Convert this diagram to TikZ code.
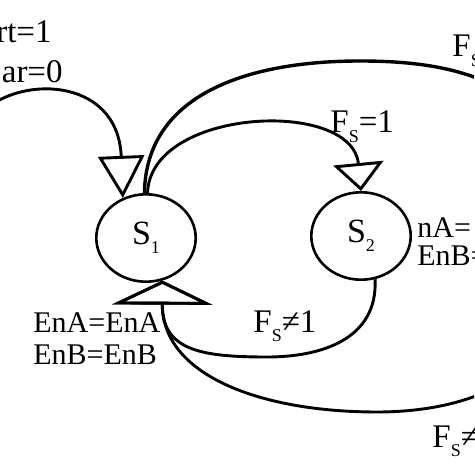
\documentclass[tikz,border=0pt]{standalone}
\usepackage{fontspec}
\setmainfont{Liberation Serif}
\usetikzlibrary{shapes.geometric,arrows.meta}
\newcommand{\lowsub}[1]{\raisebox{-0.6ex}{\fontsize{9}{9}\selectfont #1}}

\begin{document}
\begin{tikzpicture}[x=0.5pt,y=-0.5pt,
    state/.style={draw,ellipse,line width=1.3pt,minimum width=49.7pt,minimum height=43.7pt,inner sep=0pt,font=\fontsize{17}{17}\selectfont},
    edge/.style={line width=1.45pt},
    bigtip/.style={-{Triangle[open,length=12pt,width=50pt]}},
    lbl/.style={inner sep=0pt,font=\fontsize{15}{15}\selectfont},
    flbl/.style={inner sep=0pt,font=\fontsize{16.5}{16.5}\selectfont}]
    \useasboundingbox (0,0) rectangle (474,474);
    \clip (0,0) rectangle (474,474);

    % states
    \node[state] (S1) at (146,238) {S\lowsub{1}};
    \node[state] (S2) at (361,236) {S\lowsub{2}};
    \coordinate (init) at (-20,115);
    \coordinate (S3in) at (560,150);
    \coordinate (S3out) at (560,300);

    % transitions
    \draw[edge,-{Triangle[open,length=21pt,width=23pt]}] (init) .. controls (15,75) and (118,75) .. (S1.120);
    \draw[edge,-{Triangle[open,length=14pt,width=25pt]}] (S1.88) .. controls (150,108) and (352,98) .. (S2.north);
    \draw[edge,line width=1.7pt] (S1.92) .. controls (146,93) and (250,61) .. (360,61) .. controls (440,61) and (520,75) .. (S3in);
    \draw[edge,bigtip] (S2.-72) .. controls (378,340) and (320,357) .. (267,357) .. controls (200,357) and (162,350) .. (S1.-69);
    \draw[edge,bigtip] (S3out) .. controls (545,390) and (450,412) .. (377,412) .. controls (260,412) and (162,375) .. (S1.-69);

    % labels
    \node[flbl,anchor=base east] (start) at (52,43) {rt=1};
    \node[flbl,anchor=base east] (clear) at (63,83) {ar=0};
    \node[flbl,anchor=base west] (fs1) at (330,133) {F\lowsub{S}=1};
    \node[flbl,anchor=base west] (fs2) at (253,332) {F\lowsub{S}≠1};
    \node[flbl,anchor=base west] (fs3) at (452,57) {F\lowsub{S}};
    \node[flbl,anchor=base west] (fs4) at (432,447) {F\lowsub{S}≠};
    \node[lbl,anchor=base west] (enA1) at (33,332) {EnA=EnA};
    \node[lbl,anchor=base west] (enB1) at (33,364) {EnB=EnB};
    \node[lbl,anchor=base west] (enA2) at (417,238) {nA=};
    \node[lbl,anchor=base west] (enB2) at (417,266) {EnB=};
\end{tikzpicture}
\end{document}
